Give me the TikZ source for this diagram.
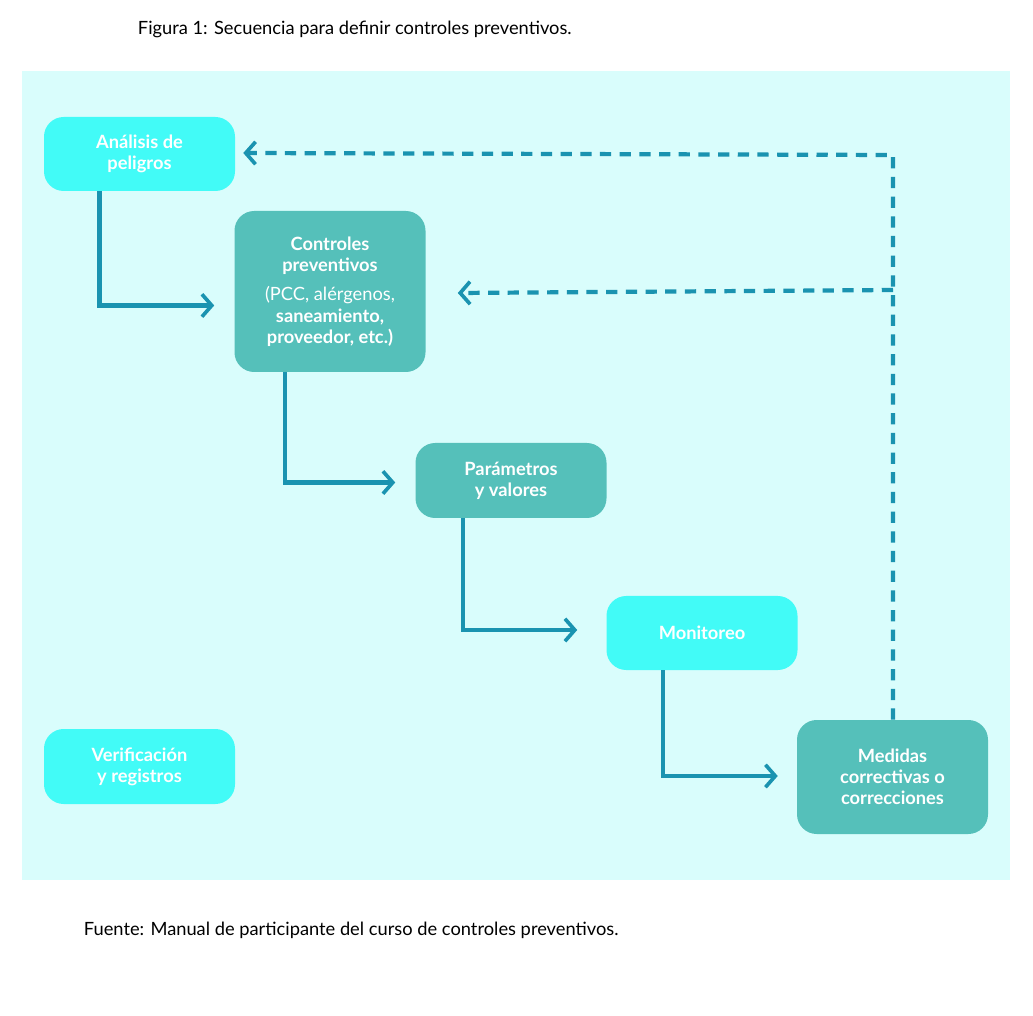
\documentclass[tikz,border=0pt]{standalone}
\usepackage{fontspec}
\setmainfont{Lato}
\usetikzlibrary{arrows.meta,calc}
\definecolor{bgcyan}{HTML}{D9FDFC}
\definecolor{brightbox}{HTML}{42FBF7}
\definecolor{tealbox}{HTML}{55C0BA}
\definecolor{flow}{HTML}{1A93B0}
\begin{document}
\begin{tikzpicture}[x=0.025cm,y=-0.025cm,
  box/.style={rounded corners=14pt,minimum width=191*0.025cm,text=white,
    font=\fontsize{13}{15}\selectfont\bfseries,align=center,inner sep=0pt},
  flowline/.style={draw=flow,line width=3pt,
    -{Straight Barb[length=7pt,width=16pt,line width=2.6pt]}},
  back/.style={flowline,dash pattern=on 8pt off 6pt}]
  \useasboundingbox (0,0) rectangle (1033,1016);
  \fill[bgcyan] (22,71) rectangle (1010,880);
  \node[anchor=west,font=\fontsize{13}{15}\selectfont] (title) at (133,29)
    {Figura 1: Secuencia para definir controles preventivos.};
  \node[anchor=west,font=\fontsize{13}{15}\selectfont] (source) at (79,930)
    {Fuente: Manual de participante del curso de controles preventivos.};

  \node[box,fill=brightbox,minimum height=74*0.025cm] (analisis) at (139.5,154)
    {Análisis de\\peligros};
  \node[box,fill=tealbox,minimum height=161*0.025cm] (controles) at (330,291.5)
    {Controles\\preventivos\\[6pt]\mdseries (PCC, alérgenos,\\saneamiento,\\proveedor, etc.)};
  \node[box,fill=tealbox,minimum height=75*0.025cm] (parametros) at (511,480.5)
    {Parámetros\\y valores};
  \node[box,fill=brightbox,minimum height=74*0.025cm] (monitoreo) at (702,633)
    {Monitoreo};
  \node[box,fill=tealbox,minimum height=114*0.025cm] (medidas) at (892.5,777)
    {Medidas\\correctivas o\\correcciones};
  \node[box,fill=brightbox,minimum height=75*0.025cm] (verificacion) at (139.5,766.5)
    {Verificación\\y registros};

  \coordinate (corner) at (893,155);
  \coordinate (branch) at (893,290);

  \draw[flowline] ([xshift=-40*0.025cm]analisis.south) |- ([xshift=-20*0.025cm,yshift=-14*0.025cm]controles.west);
  \draw[flowline] ([xshift=-45*0.025cm]controles.south) |- ([xshift=-20*0.025cm,yshift=-2*0.025cm]parametros.west);
  \draw[flowline] ([xshift=-48*0.025cm]parametros.south) |- ([xshift=-29*0.025cm,yshift=3*0.025cm]monitoreo.west);
  \draw[flowline] ([xshift=-39*0.025cm]monitoreo.south) |- ([xshift=-19*0.025cm,yshift=1*0.025cm]medidas.west);
  \draw[back] ([xshift=0.5*0.025cm]medidas.north) -- (corner) -- ([xshift=8*0.025cm,yshift=1*0.025cm]analisis.east);
  \draw[back] (branch) -- ([xshift=32*0.025cm,yshift=-1.5*0.025cm]controles.east);
\end{tikzpicture}
\end{document}
